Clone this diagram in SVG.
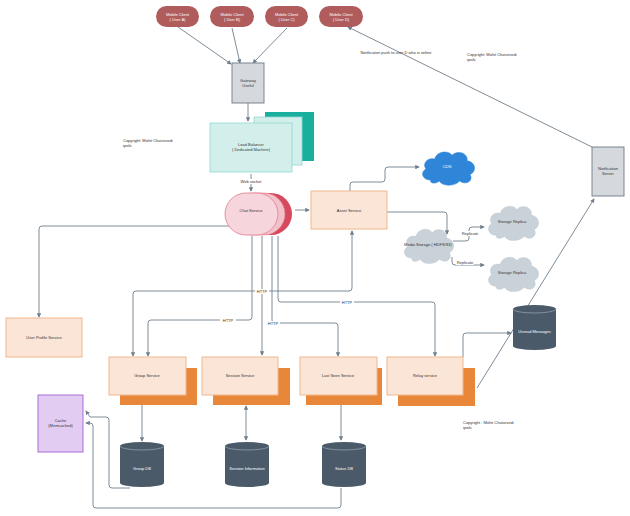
<svg xmlns="http://www.w3.org/2000/svg" width="630" height="516" viewBox="0 0 630 516">
<style>
text{font-family:"Liberation Sans",Arial,sans-serif;font-size:4px;fill:#333;text-anchor:middle}
.w{fill:#fff}
.lbl{fill:#444}
.l{text-anchor:start}
.client{fill:#b05c5c}
.gray{fill:#d5d8dc;stroke:#7b8590;stroke-width:1}
.svc{fill:#fae5d7;stroke:#f2b88e;stroke-width:1}
.sh{fill:#e8873a}
.db{fill:#4b5a69}
.dbtop{fill:none;stroke:#a9b4bf;stroke-width:0.6}
.c{fill:none;stroke:#6f7f8d;stroke-width:0.9}
.cloud{fill:#c9d1d9;stroke:#b8c2cc;stroke-width:0.6}
.lbg{fill:#fff}
</style>
<defs>
<marker id="a" viewBox="0 0 6 6" refX="5" refY="3" markerWidth="5" markerHeight="5" orient="auto-start-reverse"><path d="M0,0 L6,3 L0,6 Z" fill="#6f7f8d"/></marker>
<path id="cl" d="M20,60 C5,60 2,45 12,40 C5,30 15,18 27,22 C30,8 50,5 57,15 C65,5 85,10 83,25 C98,27 100,45 88,50 C95,62 80,70 70,62 C62,72 40,72 35,62 C28,68 18,66 20,60 Z"/>
</defs>

<g id="connectors">
<path class="c" d="M178,27 L231,64" marker-end="url(#a)"/>
<path class="c" d="M232,28 L240,63" marker-end="url(#a)"/>
<path class="c" d="M287,28 L253,63" marker-end="url(#a)"/>
<path class="c" d="M592,147 L348,27" marker-end="url(#a)"/>
<path class="c" d="M248,103 L248,121" marker-end="url(#a)"/>
<path class="c" d="M251,174 L251,191" marker-end="url(#a)"/>
<path class="c" d="M295,210 L309,210" marker-end="url(#a)"/>
<path class="c" d="M350,191 V185 Q350,182 353,182 H382 Q385,182 385,179 V170 Q385,167 388,167 H419" marker-end="url(#a)"/>
<path class="c" d="M387,212 H444 Q447,212 447,215 V234" marker-end="url(#a)"/>
<path class="c" d="M453,241 H466 Q469,241 469,238 V230 Q469,227 472,227 H484" marker-end="url(#a)"/>
<path class="c" d="M452,257 V262 Q452,265 455,265 H484" marker-end="url(#a)"/>
<path class="c" d="M236,226 H42 Q39,226 39,229 V317" marker-end="url(#a)"/>
<path class="c" d="M252,236 V317 Q252,320 249,320 H151 Q148,320 148,323 V356" marker-end="url(#a)"/>
<path class="c" d="M262,236 V355" marker-end="url(#a)"/>
<path class="c" d="M272,236 V320 Q272,323 275,323 H335 Q338,323 338,326 V356" marker-end="url(#a)"/>
<path class="c" d="M278,236 V299 Q278,302 281,302 H432 Q435,302 435,305 V356" marker-end="url(#a)"/>
<path class="c" d="M133,356 V294 Q133,291 136,291 H349 Q352,291 352,288 V231" marker-start="url(#a)" marker-end="url(#a)"/>
<path class="c" d="M463,357 V336 Q463,333 466,333 H511" marker-end="url(#a)"/>
<path class="c" d="M477,388 L594,199" marker-end="url(#a)"/>
<path class="c" d="M142,405 V441" marker-end="url(#a)"/>
<path class="c" d="M246,406 V440" marker-start="url(#a)" marker-end="url(#a)"/>
<path class="c" d="M341,405 V440" marker-end="url(#a)"/>
<path class="c" d="M130,488 H112 Q109,488 109,485 V420 Q109,417 106,417 H90 L86,411" marker-end="url(#a)"/>
<path class="c" d="M341,488 V505 Q341,508 338,508 H96 Q93,508 93,505 V426 Q93,423 90,423 H86" marker-end="url(#a)"/>
<rect class="lbg" x="240" y="179" width="22" height="5"/>
<text x="251" y="183">Web socket</text>
<rect class="lbg" x="462" y="231" width="18" height="5"/>
<text x="470" y="235">Replicate</text>
<rect class="lbg" x="456" y="260" width="18" height="5"/>
<text x="465" y="264">Replicate</text>
<rect class="lbg" x="220" y="318" width="16" height="5"/>
<text x="228" y="322">HTTP</text>
<rect class="lbg" x="255" y="289" width="14" height="5"/>
<text x="262" y="293">HTTP</text>
<rect class="lbg" x="266" y="321" width="14" height="5"/>
<text x="273" y="325">HTTP</text>
<rect class="lbg" x="340" y="300" width="14" height="5"/>
<text x="347" y="304">HTTP</text>
<text x="396" y="54">Notification push to user D who is online</text>
</g>

<g id="client-a"><rect class="client" x="156" y="6" width="43" height="21" rx="10.5"/><text class="w" x="177.5" y="15.5">Mobile Client</text><text class="w" x="177.5" y="20.5">( User A)</text></g>
<g id="client-b"><rect class="client" x="210" y="6" width="44" height="21" rx="10.5"/><text class="w" x="232" y="15.5">Mobile Client</text><text class="w" x="232" y="20.5">( User B)</text></g>
<g id="client-c"><rect class="client" x="265" y="6" width="43" height="21" rx="10.5"/><text class="w" x="286.5" y="15.5">Mobile Client</text><text class="w" x="286.5" y="20.5">( User C)</text></g>
<g id="client-d"><rect class="client" x="319" y="6" width="44" height="21" rx="10.5"/><text class="w" x="341" y="15.5">Mobile Client</text><text class="w" x="341" y="20.5">( User D)</text></g>

<g id="gateway"><rect class="gray" x="232" y="63" width="32" height="40"/><text x="248" y="82">Gateway</text><text x="248" y="87">Useful</text></g>

<g id="load-balancer">
<rect x="265" y="112" width="49" height="49" fill="#1aae9f"/>
<rect x="254" y="117" width="48" height="48" fill="#d3efec" stroke="#8fd9cf" stroke-width="0.8"/>
<rect x="210" y="123" width="82" height="49" fill="#d3efec" stroke="#8fd9cf" stroke-width="0.8"/>
<text x="251" y="146">Load Balancer</text><text x="251" y="151">( Dedicated Machine)</text>
</g>

<g id="chat-service">
<rect x="239" y="193" width="53" height="42" rx="21" fill="#d64a5e"/>
<rect x="232" y="193" width="53" height="42" rx="21" fill="#f2c2cb" stroke="#e57b8b" stroke-width="0.6"/>
<rect x="225" y="193" width="53" height="42" rx="21" fill="#f6d5dc" stroke="#e57b8b" stroke-width="0.8"/>
<text x="251" y="212">Chat Service</text>
</g>

<g id="asset-service"><rect class="svc" x="311" y="191" width="76" height="38"/><text x="349" y="212">Asset Service</text></g>

<g id="cdn"><use href="#cl" transform="translate(419,147) scale(0.58,0.55)" fill="#2f86d8" stroke="#2f86d8"/><text class="w" x="447" y="168">CDN</text></g>

<g id="media-storage"><use href="#cl" class="cloud" transform="translate(401,224) scale(0.55,0.57)"/><text x="428" y="246">Media Storage ( HDFS/S3)</text></g>
<g id="replica-1"><use href="#cl" class="cloud" transform="translate(485,201) scale(0.56,0.57)"/><text x="512" y="223">Storage Replica</text></g>
<g id="replica-2"><use href="#cl" class="cloud" transform="translate(485,252) scale(0.56,0.57)"/><text x="512" y="274">Storage Replica</text></g>

<g id="notification-server"><rect class="gray" x="592" y="147" width="32" height="49"/><text x="608" y="170">Notification</text><text x="608" y="175">Server</text></g>

<g id="user-profile"><rect class="svc" x="6" y="318" width="76" height="39"/><text x="44" y="339">User Profile Service</text></g>

<g id="group-service"><rect class="sh" x="120" y="368" width="77" height="37"/><rect class="svc" x="109" y="357" width="77" height="38"/><text x="147" y="377">Group Service</text></g>
<g id="session-service"><rect class="sh" x="213" y="368" width="77" height="37"/><rect class="svc" x="202" y="357" width="76" height="38"/><text x="240" y="377">Session Service</text></g>
<g id="last-seen-service"><rect class="sh" x="306" y="368" width="76" height="37"/><rect class="svc" x="300" y="357" width="77" height="38"/><text x="338" y="377">Last Seen Service</text></g>
<g id="relay-service"><rect class="sh" x="398" y="368" width="77" height="38"/><rect class="svc" x="387" y="357" width="76" height="38"/><text x="425" y="377">Relay service</text></g>

<g id="unread-messages"><path class="db" d="M513,309 A21.5,4 0 0 1 556,309 V346 A21.5,4 0 0 1 513,346 Z"/><path class="dbtop" d="M513,309 A21.5,4 0 0 0 556,309"/><text class="w" x="534.5" y="333">Unread Messages</text></g>

<g id="cache"><rect x="38" y="395" width="45" height="57" fill="#e2ccf2" stroke="#a25fd8" stroke-width="0.9"/><text x="60.5" y="422">Cache</text><text x="60.5" y="427">(Memcached)</text></g>

<g id="group-db"><path class="db" d="M120,446 A22,4 0 0 1 164,446 V483 A22,4 0 0 1 120,483 Z"/><path class="dbtop" d="M120,446 A22,4 0 0 0 164,446"/><text class="w" x="142" y="470">Group DB</text></g>
<g id="session-db"><path class="db" d="M225,446 A22,4 0 0 1 269,446 V483 A22,4 0 0 1 225,483 Z"/><path class="dbtop" d="M225,446 A22,4 0 0 0 269,446"/><text class="w" x="247" y="470">Session Information</text></g>
<g id="status-db"><path class="db" d="M322,446 A22,4 0 0 1 366,446 V483 A22,4 0 0 1 322,483 Z"/><path class="dbtop" d="M322,446 A22,4 0 0 0 366,446"/><text class="w" x="344" y="470">Status DB</text></g>

<g id="copyrights">
<text class="l" x="123" y="142">Copyright: Mohit Chaturvedi</text><text class="l" x="123" y="147">ipsilc</text>
<text class="l" x="467" y="56">Copyright: Mohit Chaturvedi</text><text class="l" x="467" y="61">ipsilc</text>
<text class="l" x="463" y="424">Copyright : Mohit Chaturvedi</text><text class="l" x="463" y="429">ipsilc</text>
</g>
</svg>
